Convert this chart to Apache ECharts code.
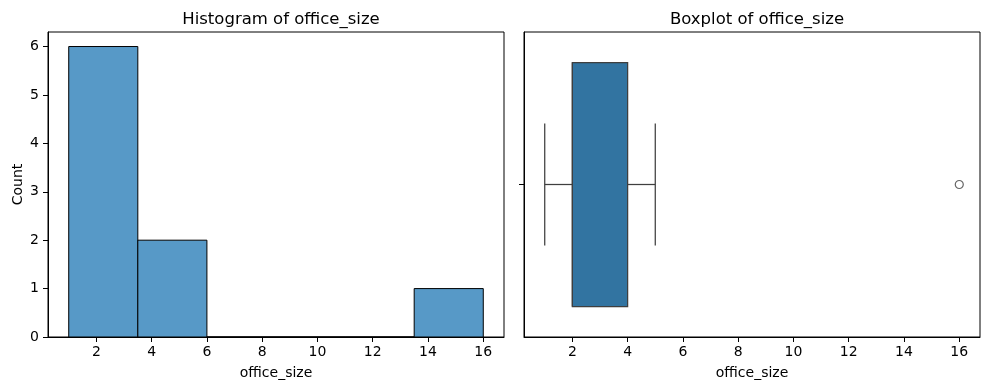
<!DOCTYPE html>
<html>
<head>
<meta charset="utf-8">
<script src="https://cdn.jsdelivr.net/npm/echarts@6/dist/echarts.min.js"></script>
<style>html,body{margin:0;padding:0;background:#fff}#c{width:990px;height:390px}</style>
</head>
<body>
<div id="c"></div>
<script>
// ---- data ----
var binEdges = [1, 3.5, 6, 8.5, 11, 13.5, 16];
var binCounts = [6, 2, 0, 0, 0, 1];
var boxStats = [1, 2, 2, 4, 5]; // min (whisker), Q1, median, Q3, max (whisker)
var outliers = [16];
var xTicks = [2, 4, 6, 8, 10, 12, 14, 16];
var yTicks = [0, 1, 2, 3, 4, 5, 6];
var titles = ['Histogram of office_size', 'Boxplot of office_size'];
var xName = 'office_size';
var yName = 'Count';

var FONT = 'DejaVu Sans';
var histData = [];
for (var i = 0; i < binCounts.length; i++) histData.push([binEdges[i], binEdges[i + 1], binCounts[i]]);

var chart = echarts.init(document.getElementById('c'), null, {renderer: 'canvas'});

function xAxisCfg(idx) {
  return {
    type: 'value', gridIndex: idx, min: 0.25, max: 16.75,
    name: xName, nameLocation: 'middle', nameGap: 29,
    nameTextStyle: {fontFamily: FONT, fontSize: 14, color: '#000'},
    axisLine: {show: true, onZero: false, lineStyle: {color: '#000', width: 1}},
    axisTick: {show: true, length: 5, lineStyle: {color: '#000', width: 1}, customValues: xTicks},
    axisLabel: {show: true, fontFamily: FONT, fontSize: 14, color: '#000', margin: 8, customValues: xTicks},
    splitLine: {show: false}
  };
}

var option = {
  animation: false,
  backgroundColor: '#fff',
  title: [
    {text: titles[0], left: 276, top: 6, textAlign: 'center',
     textStyle: {fontFamily: FONT, fontSize: 16.5, fontWeight: 'normal', color: '#000'}},
    {text: titles[1], left: 752, top: 6, textAlign: 'center',
     textStyle: {fontFamily: FONT, fontSize: 16.5, fontWeight: 'normal', color: '#000'}}
  ],
  grid: [
    {left: 48, top: 32, width: 456, height: 305, show: true, borderColor: '#000', borderWidth: 1, backgroundColor: '#fff'},
    {left: 524, top: 32, width: 456, height: 305, show: true, borderColor: '#000', borderWidth: 1, backgroundColor: '#fff'}
  ],
  xAxis: [xAxisCfg(0), xAxisCfg(1)],
  yAxis: [
    {type: 'value', gridIndex: 0, min: 0, max: 6.3,
     name: yName, nameLocation: 'middle', nameGap: 23,
     nameTextStyle: {fontFamily: FONT, fontSize: 14, color: '#000'},
     axisLine: {show: true, lineStyle: {color: '#000', width: 1}},
     axisTick: {show: true, length: 5, lineStyle: {color: '#000', width: 1}, customValues: yTicks},
     axisLabel: {show: true, fontFamily: FONT, fontSize: 14, color: '#000', margin: 9, customValues: yTicks},
     splitLine: {show: false}},
    {type: 'value', gridIndex: 1, min: -0.5, max: 0.5, inverse: true,
     axisLine: {show: true, lineStyle: {color: '#000', width: 1}},
     axisTick: {show: true, length: 5, lineStyle: {color: '#000', width: 1}, customValues: [0]},
     axisLabel: {show: false},
     splitLine: {show: false}}
  ],
  series: [
    {
      type: 'custom', xAxisIndex: 0, yAxisIndex: 0,
      dimensions: ['x0', 'x1', 'count'],
      encode: {x: ['x0', 'x1'], y: 'count'},
      data: histData,
      renderItem: function (params, api) {
        var p0 = api.coord([api.value(0), api.value(2)]);
        var p1 = api.coord([api.value(1), 0]);
        return {
          type: 'rect',
          shape: {x: p0[0], y: p0[1], width: p1[0] - p0[0], height: p1[1] - p0[1]},
          style: {fill: 'rgb(87,153,199)', stroke: '#000', lineWidth: 1}
        };
      }
    },
    {
      type: 'custom', xAxisIndex: 1, yAxisIndex: 1,
      dimensions: ['lo', 'q1', 'med', 'q3', 'hi'],
      encode: {x: ['lo', 'q1', 'med', 'q3', 'hi']},
      data: [boxStats],
      renderItem: function (params, api) {
        var lo = api.value(0), q1 = api.value(1), med = api.value(2), q3 = api.value(3), hi = api.value(4);
        var c = function (x, y) { return api.coord([x, y]); };
        var stroke = '#3f3f3f', lw = 1.25;
        var lineStyle = {stroke: stroke, lineWidth: lw};
        var bTop = c(q1, -0.4), bBot = c(q3, 0.4);
        var children = [];
        function ln(a, b) {
          children.push({type: 'line', shape: {x1: a[0], y1: a[1], x2: b[0], y2: b[1]}, style: lineStyle});
        }
        ln(c(lo, 0), c(q1, 0));
        ln(c(q3, 0), c(hi, 0));
        ln(c(lo, -0.2), c(lo, 0.2));
        ln(c(hi, -0.2), c(hi, 0.2));
        children.push({type: 'rect',
          shape: {x: bTop[0], y: bTop[1], width: bBot[0] - bTop[0], height: bBot[1] - bTop[1]},
          style: {fill: '#3274a1', stroke: stroke, lineWidth: lw}});
        ln(c(med, -0.4), c(med, 0.4));
        return {type: 'group', children: children};
      }
    },
    {
      type: 'scatter', xAxisIndex: 1, yAxisIndex: 1,
      data: outliers.map(function (v) { return [v, 0]; }),
      symbol: 'circle', symbolSize: 8,
      itemStyle: {color: 'rgba(255,255,255,0)', borderColor: '#3f3f3f', borderWidth: 1.2}
    }
  ]
};
chart.setOption(option);
</script>
</body>
</html>
